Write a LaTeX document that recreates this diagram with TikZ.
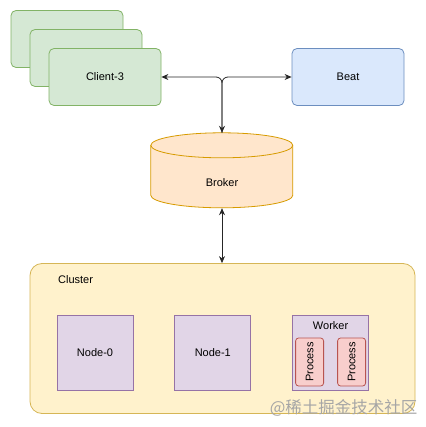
\documentclass[tikz,border=0pt]{standalone}
\usepackage{fontspec}
\setmainfont{Liberation Sans}
\newfontfamily\cjkfont{Noto Sans CJK SC}
\usepackage{tikz}
\usetikzlibrary{arrows.meta,positioning}
\definecolor{clientFill}{HTML}{D5E8D4}
\definecolor{clientLine}{HTML}{82B366}
\definecolor{beatFill}{HTML}{DAE8FC}
\definecolor{beatLine}{HTML}{6C8EBF}
\definecolor{brokerFill}{HTML}{FFE6CC}
\definecolor{brokerLine}{HTML}{D79B00}
\definecolor{clusterFill}{HTML}{FFF2CC}
\definecolor{clusterLine}{HTML}{D6B656}
\definecolor{memberFill}{HTML}{E1D5E7}
\definecolor{memberLine}{HTML}{9673A6}
\definecolor{processFill}{HTML}{F8CECC}
\definecolor{processLine}{HTML}{B85450}

\begin{document}
\begin{tikzpicture}[x=1pt, y=1pt,
			font=\fontsize{11}{13}\selectfont,
			boxStyle/.style={draw, line width=0.8pt, align=center, minimum width=112pt, minimum height=57pt, rounded corners=5pt},
			client/.style={boxStyle, draw=clientLine, fill=clientFill},
			beat/.style={boxStyle, draw=beatLine, fill=beatFill},
			brokerStyle/.style={draw=brokerLine, fill=brokerFill, line width=0.8pt},
			cluster/.style={draw=clusterLine, fill=clusterFill, line width=0.8pt, minimum width=385pt, minimum height=150pt, rounded corners=12pt},
			member/.style={draw=memberLine, fill=memberFill, line width=0.8pt, minimum width=76pt, minimum height=75pt},
			process/.style={draw=processLine, fill=processFill, line width=0.8pt, minimum width=48pt, minimum height=28pt, rounded corners=3pt, rotate=90},
			arrowStyle/.style={line width=0.8pt, black!85, >={Stealth[length=7pt, width=6pt]}},]
			
			\useasboundingbox (0,0) rectangle (425,-427);
			
			% clients, stacked from the back
			\coordinate (front) at (105,-77);
			\foreach \i/\d in {1/38,2/19}
			\node[client] (c\i) at ([xshift=-\d pt, yshift=\d pt]front) {};
			\node[client] (c3) at (front) {Client-3};
			
			\node[beat] (beat) at (348,-77) {Beat};
			
			% broker drum
			\node[minimum width=142pt, minimum height=75pt] (broker) at (222,-170.5) {};
			\path[brokerStyle] ([yshift=-12.5pt]broker.north west) -- ++(0,-50)
				arc[start angle=180, end angle=360, x radius=71, y radius=12.5] -- ++(0,50)
				arc[start angle=0, end angle=180, x radius=71, y radius=12.5] -- cycle;
			\draw[brokerStyle, fill=none] ([yshift=-12.5pt]broker.north west)
				arc[start angle=180, end angle=360, x radius=71, y radius=12.5];
			\node (brokerLabel) at ([yshift=-12pt]broker.center) {Broker};
			
			%%%%%%%%%%%
			\node[cluster] (cluster) at (222.5,-338.5) {};
			\node[anchor=west] (clusterLabel) at ([xshift=25pt, yshift=-16pt]cluster.north west) {Cluster};
			
			\node[member] (n0) at (95,-352.5) {Node-0};
			\node[member, right=41pt of n0] (n1) {Node-1};
			\node[member, right=41pt of n1] (worker) {};
			\node[anchor=north] (workerLabel) at ([yshift=-3pt]worker.north) {Worker};
			
			\node[process] (p1) at ([xshift=-21pt, yshift=-9.5pt]worker.center) {Process};
			\node[process] (p2) at ([xshift=21pt, yshift=-9.5pt]worker.center) {Process};
			
			\draw[arrowStyle, <->, rounded corners=6pt] (c3.east) -| (broker.north);
			\draw[arrowStyle, <-, rounded corners=6pt] (beat.west) -| (broker.north);
			\draw[arrowStyle, <->] (broker.south) -- (broker.south |- cluster.north);
			
			\node[anchor=south east, text=black!35, font=\cjkfont\fontsize{16.5}{16.5}\selectfont] (mark) at (421,-420) {@稀土掘金技术社区};
		\end{tikzpicture}
\end{document}
